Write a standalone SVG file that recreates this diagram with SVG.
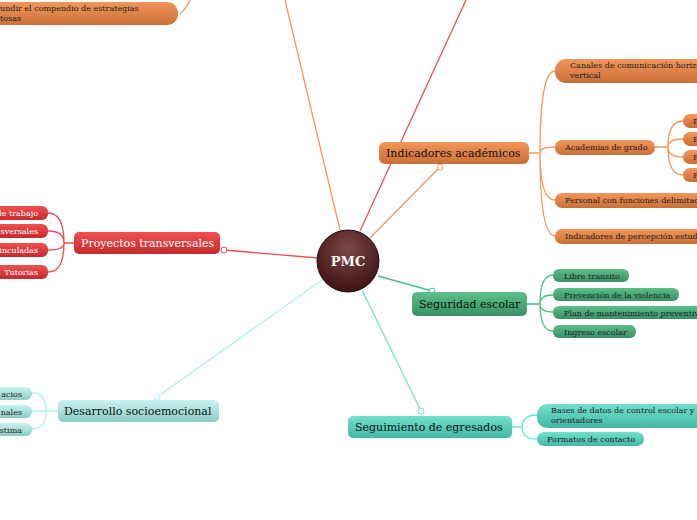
<svg xmlns="http://www.w3.org/2000/svg" width="697" height="520" viewBox="0 0 697 520">
<defs>
<linearGradient id="go" x1="0" y1="0" x2="0" y2="1"><stop offset="0" stop-color="#f4965a"/><stop offset="1" stop-color="#c86f38"/></linearGradient>
<linearGradient id="gr" x1="0" y1="0" x2="0" y2="1"><stop offset="0" stop-color="#f05050"/><stop offset="1" stop-color="#c42a30"/></linearGradient>
<linearGradient id="gg" x1="0" y1="0" x2="0" y2="1"><stop offset="0" stop-color="#5cc08a"/><stop offset="1" stop-color="#3a9065"/></linearGradient>
<linearGradient id="gc" x1="0" y1="0" x2="0" y2="1"><stop offset="0" stop-color="#c8f4f0"/><stop offset="1" stop-color="#8ccac4"/></linearGradient>
<linearGradient id="gt" x1="0" y1="0" x2="0" y2="1"><stop offset="0" stop-color="#72e0cc"/><stop offset="1" stop-color="#44b8a4"/></linearGradient>
<radialGradient id="gm" cx="0.5" cy="0.3" r="0.7"><stop offset="0" stop-color="#7a4848"/><stop offset="1" stop-color="#3e1212"/></radialGradient>
</defs>
<style>
text{font-family:"DejaVu Serif","Liberation Serif",serif;}
.s{font-size:8px;fill:#222;}
.sw{font-size:8px;fill:#fff;}
.m{font-size:11px;fill:#111;}
.mw{font-size:11px;fill:#fff;}
.c{fill:none;stroke-width:1.3;}
.o{stroke:#f4965a;} .r{stroke:#f04e4e;} .g{stroke:#4cbf80;} .cy{stroke:#a8f4ee;} .t{stroke:#6ee4cc;}
</style>
<g id="connectors">
<path class="c o" d="M340 230 L285 0"/>
<path class="c r" d="M360 231 L466 0"/>
<path class="c o" d="M370 238 L440 167"/>
<circle cx="440" cy="167" r="3" fill="#fff" stroke="#f4965a"/>
<path class="c r" d="M318 258 L224 250"/>
<circle cx="224" cy="250" r="3" fill="#fff" stroke="#f04e4e"/>
<path class="c cy" d="M325 278 L157 397"/>
<circle cx="157" cy="397" r="3" fill="#fff" stroke="#a8f4ee"/>
<path class="c t" d="M362 290 L421 411"/>
<circle cx="421" cy="411" r="3" fill="#fff" stroke="#6ee4cc"/>
<path class="c g" d="M378 276 L432 291"/>
<circle cx="432" cy="291" r="3" fill="#fff" stroke="#4cbf80"/>
<path class="c o" d="M190 0 Q185 10 180 14"/>
<path class="c o" d="M529 153 H540 M540 153 Q540 71 555 71 M540 153 Q540 147 555 147 M540 153 Q540 200 555 200 M540 153 Q540 236 555 236"/>
<path class="c o" d="M655 147 H668 M668 147 Q668 121 683 121 M668 147 Q668 139 683 139 M668 147 Q668 157 683 157 M668 147 Q668 175 683 175"/>
<path class="c r" d="M74 243 H64 M64 243 Q64 213 48 213 M64 243 Q64 231 48 231 M64 243 Q64 250 48 250 M64 243 Q64 272 48 272"/>
<path class="c g" d="M412 304 H540 M540 304 Q540 275 553 275 M540 304 Q540 295 553 295 M540 304 Q540 312 553 312 M540 304 Q540 331 553 331"/>
<path class="c cy" d="M58 411 H46 M46 411 Q46 393 32 393 M46 411 H32 M46 411 Q46 429 32 429"/>
<path class="c t" d="M512 427 H522 M522 427 Q522 415 537 415 M522 427 Q522 439 537 439"/>
</g>
<g id="top-left"><rect x="-20" y="2" width="198" height="23" rx="11" fill="url(#go)"/><text class="s" x="0" y="11">undir el compendio de estrategias</text><text class="s" x="0" y="21">tosas</text></g>
<g id="pmc"><circle cx="348" cy="261" r="31" fill="url(#gm)" stroke="#2a0a0a"/><text x="348" y="266" text-anchor="middle" style="font-size:13px;font-weight:bold;fill:#fff">PMC</text></g>
<g id="indicadores"><rect x="379" y="142" width="150" height="22" rx="6" fill="url(#go)"/><text class="m" x="386" y="157">Indicadores académicos</text></g>
<g id="canales"><rect x="555" y="59" width="160" height="24" rx="11" fill="url(#go)"/><text class="s" x="570" y="68">Canales de comunicación horizontal y</text><text class="s" x="570" y="78">vertical</text></g>
<g id="academias"><rect x="555" y="140" width="100" height="15" rx="7" fill="url(#go)"/><text class="s" x="565" y="150">Academias de grado</text></g>
<g id="p1"><rect x="683" y="114" width="30" height="14" rx="7" fill="url(#go)"/><text class="s" x="693" y="124">P</text></g>
<g id="p2"><rect x="683" y="132" width="30" height="14" rx="7" fill="url(#go)"/><text class="s" x="693" y="142">P</text></g>
<g id="p3"><rect x="683" y="150" width="30" height="14" rx="7" fill="url(#go)"/><text class="s" x="693" y="160">P</text></g>
<g id="p4"><rect x="683" y="168" width="30" height="14" rx="7" fill="url(#go)"/><text class="s" x="693" y="178">P</text></g>
<g id="personal"><rect x="555" y="193" width="160" height="15" rx="7" fill="url(#go)"/><text class="s" x="565" y="203">Personal con funciones delimitadas</text></g>
<g id="percepcion"><rect x="555" y="229" width="160" height="15" rx="7" fill="url(#go)"/><text class="s" x="565" y="239">Indicadores de percepción estudiantil</text></g>
<g id="proyectos"><rect x="74" y="232" width="146" height="22" rx="5" fill="url(#gr)"/><text class="mw" x="81" y="247">Proyectos transversales</text></g>
<g id="pr1"><rect x="-10" y="206" width="58" height="14" rx="6" fill="url(#gr)"/><text class="sw" x="38" y="216" text-anchor="end">de trabajo</text></g>
<g id="pr2"><rect x="-10" y="224" width="58" height="14" rx="6" fill="url(#gr)"/><text class="sw" x="38" y="234" text-anchor="end">sversales</text></g>
<g id="pr3"><rect x="-10" y="243" width="58" height="14" rx="6" fill="url(#gr)"/><text class="sw" x="38" y="253" text-anchor="end">inculadas</text></g>
<g id="pr4"><rect x="-10" y="265" width="58" height="14" rx="6" fill="url(#gr)"/><text class="sw" x="38" y="275" text-anchor="end">Tutorias</text></g>
<g id="seguridad"><rect x="412" y="292" width="115" height="24" rx="5" fill="url(#gg)"/><text class="m" x="419" y="308">Seguridad escolar</text></g>
<g id="sg1"><rect x="553" y="269" width="76" height="13" rx="6" fill="url(#gg)"/><text class="s" x="564" y="279">Libre transito</text></g>
<g id="sg2"><rect x="553" y="288" width="126" height="13" rx="6" fill="url(#gg)"/><text class="s" x="564" y="298">Prevención de la violencia</text></g>
<g id="sg3"><rect x="553" y="306" width="160" height="13" rx="6" fill="url(#gg)"/><text class="s" x="564" y="316">Plan de mantenimiento preventivo</text></g>
<g id="sg4"><rect x="553" y="325" width="83" height="13" rx="6" fill="url(#gg)"/><text class="s" x="564" y="335">Ingreso escolar</text></g>
<g id="desarrollo"><rect x="58" y="400" width="161" height="22" rx="5" fill="url(#gc)"/><text class="m" x="64" y="415">Desarrollo socioemocional</text></g>
<g id="d1"><rect x="-10" y="387" width="42" height="13" rx="6" fill="url(#gc)"/><text class="s" x="22" y="397" text-anchor="end">acios</text></g>
<g id="d2"><rect x="-10" y="405" width="42" height="13" rx="6" fill="url(#gc)"/><text class="s" x="22" y="415" text-anchor="end">nales</text></g>
<g id="d3"><rect x="-10" y="423" width="42" height="13" rx="6" fill="url(#gc)"/><text class="s" x="22" y="433" text-anchor="end">stima</text></g>
<g id="seguimiento"><rect x="348" y="416" width="164" height="22" rx="5" fill="url(#gt)"/><text class="m" x="355" y="431">Seguimiento de egresados</text></g>
<g id="bases"><rect x="537" y="404" width="170" height="24" rx="10" fill="url(#gt)"/><text class="s" x="551" y="413">Bases de datos de control escolar y</text><text class="s" x="551" y="423">orientadores</text></g>
<g id="formatos"><rect x="537" y="432" width="107" height="14" rx="7" fill="url(#gt)"/><text class="s" x="547" y="442">Formatos de contacto</text></g>
</svg>
